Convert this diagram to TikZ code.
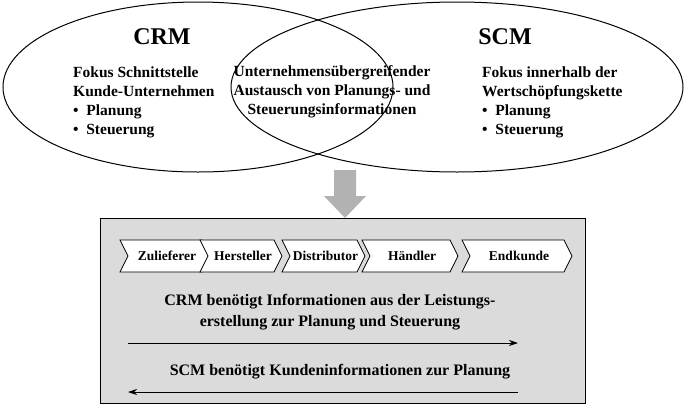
\documentclass[tikz,border=0pt]{standalone}
\usepackage{fontspec}
\setmainfont{Liberation Serif}
\usetikzlibrary{shapes.arrows,arrows.meta}
\begin{document}
\begin{tikzpicture}[x=1pt,y=-1pt,
  txt/.style={font=\bfseries\fontsize{15.5}{19}\selectfont,align=left,inner sep=0pt},
  chev/.style={draw,fill=white,line width=0.8pt},
  lbl/.style={font=\bfseries\fontsize{13.5}{16}\selectfont}]
\useasboundingbox (0,0) rectangle (685,418);
\draw[line width=1pt] (198,87) ellipse [x radius=195,y radius=85];
\draw[line width=1pt] (457,87) ellipse [x radius=226,y radius=85];
\node[font=\bfseries\fontsize{24}{28}\selectfont] (crm) at (162,37) {CRM};
\node[font=\bfseries\fontsize{24}{28}\selectfont] (scm) at (505,37) {SCM};
\node[txt,anchor=north west] (l) at (73,67) {Fokus Schnittstelle\\Kunde-Unternehmen\\\textbullet\ \ Planung\\\textbullet\ \ Steuerung};
\node[txt,anchor=north west] (r) at (482,67) {Fokus innerhalb der\\Wertschöpfungskette\\\textbullet\ \ Planung\\\textbullet\ \ Steuerung};
\node[txt,align=center] (m) at (332,92) {Unternehmensübergreifender\\Austausch von Planungs- und\\Steuerungsinformationen};
\fill[black!30] (334,170) rectangle (356,196) (324,196) -- (366,196) -- (345,218) -- cycle;
\draw[fill=black!14,line width=0.8pt] (100,218) rectangle (585,403);
\foreach \a/\b/\t/\n in {120/210/Zulieferer/c1,200/282/Hersteller/c2,282/365/Distributor/c3,362/458/Händler/c4,462/572/Endkunde/c5}{
  \draw[chev] (\a,240) -- (\b-8,240) -- (\b,256) -- (\b-8,272) -- (\a,272) -- (\a+8,256) -- cycle;
  \node[lbl] (\n) at ({(\a+\b)/2+2},256) {\t};
}
\node[txt,align=center,font=\bfseries\fontsize{16}{21}\selectfont] (t1) at (330,312) {CRM benötigt Informationen aus der Leistungs-\\erstellung zur Planung und Steuerung};
\coordinate (a1) at (128,343); \coordinate (b1) at (518,343);
\draw[-{Stealth[length=9pt,width=6pt]},line width=1pt] (a1) -- (b1);
\node[txt,font=\bfseries\fontsize{16}{21}\selectfont] (t2) at (340,372) {SCM benötigt Kundeninformationen zur Planung};
\coordinate (a2) at (518,392); \coordinate (b2) at (128,392);
\draw[-{Stealth[length=9pt,width=6pt]},line width=1pt] (a2) -- (b2);
\end{tikzpicture}
\end{document}
